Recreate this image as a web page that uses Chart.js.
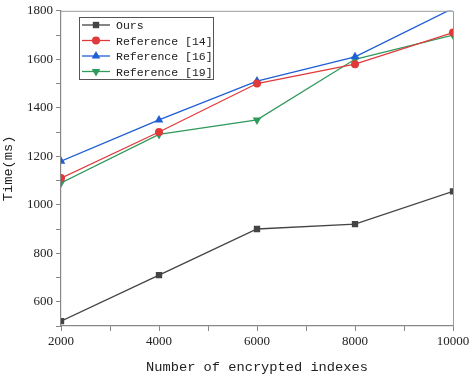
<!DOCTYPE html>
<html>
<head>
<meta charset="utf-8">
<script src="https://cdn.jsdelivr.net/npm/chart.js@4"></script>
<style>
  html, body { margin: 0; padding: 0; background: #fff; }
  #wrap { width: 474px; height: 376px; }
</style>
</head>
<body>
<div id="wrap"><canvas id="grafico"></canvas></div>
<script>
// dados
const indices = [2000, 4000, 6000, 8000, 10000];
const ours = [520, 710, 900, 920, 1055];
const ref14 = [1110, 1300, 1500, 1580, 1710];
const ref16 = [1180, 1350, 1510, 1610, 1810];
const ref19 = [1090, 1290, 1350, 1600, 1700];

const nomes = ['Ours', 'Reference [14]', 'Reference [16]', 'Reference [19]'];
const cores = ['#444444', '#e0393b', '#1f5fd6', '#2f9a5c'];
const marcadores = ['rect', 'circle', 'triangle', 'triangle'];
const rotacoes = [0, 0, 0, 180];
const raios = [4.5, 4, 5, 5];
const series = [ours, ref14, ref16, ref19];

const serifFont = "'Liberation Serif', 'Times New Roman', serif";
const monoFont = "'Liberation Mono', 'DejaVu Sans Mono', monospace";

function pontos(vals) {
  return indices.map((x, i) => ({ x: x, y: vals[i] }));
}

const datasets = series.map((vals, i) => ({
  label: nomes[i],
  data: pontos(vals),
  borderColor: cores[i],
  backgroundColor: cores[i],
  borderWidth: 1.3,
  pointStyle: marcadores[i],
  rotation: rotacoes[i],
  pointRadius: raios[i],
  pointBorderWidth: 0,
  tension: 0,
  clip: 0
}));

/* ================= MOLDURA E LEGENDA ================= */
const moldura = {
  id: 'moldura',
  afterDatasetsDraw(chart) {
    const a = chart.chartArea;
    const ctx = chart.ctx;
    ctx.save();
    ctx.strokeStyle = '#9a9a9a';
    ctx.lineWidth = 1;
    ctx.beginPath();
    ctx.moveTo(a.left, a.top + 0.5);
    ctx.lineTo(a.right + 0.5, a.top + 0.5);
    ctx.lineTo(a.right + 0.5, a.bottom);
    ctx.stroke();

    // legenda
    const x0 = 79, y0 = 17, w = 134, h = 62;
    ctx.fillStyle = '#fff';
    ctx.fillRect(x0, y0, w, h);
    ctx.strokeStyle = '#555';
    ctx.strokeRect(x0 + 0.5, y0 + 0.5, w, h);
    ctx.font = '11.5px ' + monoFont;
    ctx.textBaseline = 'middle';
    chart.data.datasets.forEach((ds, i) => {
      const y = y0 + 8 + i * 15.5;
      ctx.strokeStyle = ds.borderColor;
      ctx.lineWidth = 1.3;
      ctx.beginPath();
      ctx.moveTo(x0 + 3, y);
      ctx.lineTo(x0 + 31, y);
      ctx.stroke();
      ctx.fillStyle = ds.borderColor;
      Chart.helpers.drawPoint(ctx, {
        pointStyle: ds.pointStyle, rotation: ds.rotation,
        radius: ds.pointRadius, borderWidth: 0
      }, x0 + 17, y);
      ctx.fillStyle = '#222';
      ctx.fillText(ds.label, x0 + 37, y + 1);
    });
    ctx.restore();
  }
};

const ctx = document.getElementById('grafico');

new Chart(ctx, {
  type: 'line',
  data: { datasets: datasets },
  options: {
    responsive: true,
    maintainAspectRatio: false,
    animation: false,
    layout: { padding: { top: 8, right: 21, left: 0, bottom: 0 } },
    plugins: {
      legend: { display: false },
      tooltip: { enabled: false }
    },
    scales: {
      x: {
        type: 'linear',
        min: 2000,
        max: 10000,
        afterFit(scale) { scale.height = 50; },
        ticks: {
          stepSize: 1000,
          autoSkip: false,
          maxRotation: 0,
          padding: 3,
          color: '#222',
          font: { family: serifFont, size: 13 },
          callback: v => (v % 2000 === 0 ? String(v) : '')
        },
        grid: { display: true, drawOnChartArea: false, drawTicks: true, tickLength: 5, color: '#888' },
        border: { display: true, color: '#888', width: 1.2 },
        title: {
          display: true,
          text: 'Number of encrypted indexes',
          color: '#222',
          font: { family: monoFont, size: 13.7 },
          padding: { top: 2, bottom: 0 }
        }
      },
      y: {
        min: 500,
        max: 1800,
        afterFit(scale) { scale.width = 61; },
        ticks: {
          stepSize: 100,
          autoSkip: false,
          padding: 3,
          color: '#222',
          font: { family: serifFont, size: 13 },
          callback: v => (v % 200 === 0 ? String(v) : '')
        },
        grid: { display: true, drawOnChartArea: false, drawTicks: true, tickLength: 5, color: '#888' },
        border: { display: true, color: '#888', width: 1.2 },
        title: {
          display: true,
          text: 'Time(ms)',
          color: '#222',
          font: { family: monoFont, size: 13.7 },
          padding: { top: 0, bottom: 2 }
        }
      }
    }
  },
  plugins: [moldura]
});
</script>
</body>
</html>
